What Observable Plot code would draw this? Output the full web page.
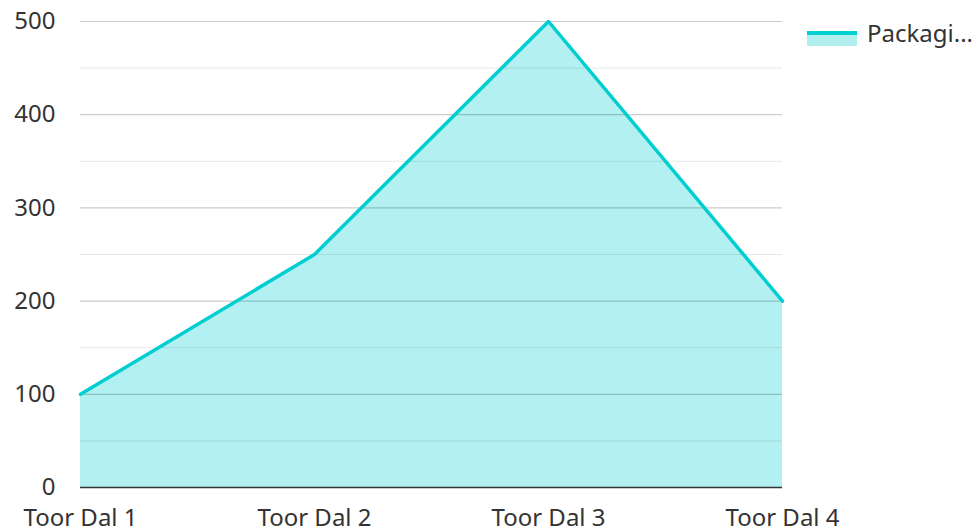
<!DOCTYPE html>
<html>
<head>
<meta charset="utf-8">
<script src="https://cdn.jsdelivr.net/npm/d3@7"></script>
<script src="https://cdn.jsdelivr.net/npm/@observablehq/plot@0.6"></script>
<style>
  html, body { margin: 0; padding: 0; background: #fff; }
  #wrap { position: relative; width: 979px; height: 529px; font-family: "Noto Sans", "Open Sans", sans-serif; }
  #legend { position: absolute; left: 807px; top: 16px; display: flex; align-items: flex-start; font-size: 24px; line-height: 34px; color: #333; white-space: nowrap; }
  #legend .sw { width: 50px; height: 15px; margin-right: 10px; position: relative; margin-top: 15px; }
  #legend .sw .ln { position: absolute; left: 0; top: 0; width: 100%; height: 4px; background: #00CED1; }
  #legend .sw .fl { position: absolute; left: 0; top: 4px; width: 100%; height: 11px; background: #b2efef; }
</style>
</head>
<body>
<div id="wrap"></div>
<script>
const categories = ["Toor Dal 1", "Toor Dal 2", "Toor Dal 3", "Toor Dal 4"];
const values = [100, 250, 500, 200];
const seriesName = "Packaging";
const majorTicks = [0, 100, 200, 300, 400, 500];
const minorTicks = [50, 150, 250, 350, 450];

const data = categories.map((c, i) => ({ cat: c, value: values[i] }));

const chart = Plot.plot({
  width: 979,
  height: 529,
  marginLeft: 80,
  marginRight: 197,
  marginTop: 21,
  marginBottom: 42,
  style: { fontFamily: "Noto Sans, Open Sans, sans-serif", background: "#fff", overflow: "visible" },
  x: { type: "point", domain: categories, padding: 0, label: null },
  y: { domain: [0, 500], label: null },
  marks: [
    Plot.areaY(data, { x: "cat", y: "value", fill: "#00CED1", fillOpacity: 0.3, curve: "linear" }),
    Plot.ruleY(minorTicks, { stroke: "#000", strokeOpacity: 0.09, strokeWidth: 1 }),
    Plot.ruleY(majorTicks.filter(d => d > 0), { stroke: "#000", strokeOpacity: 0.2, strokeWidth: 1.2 }),
    Plot.lineY(data, { x: "cat", y: "value", stroke: "#00CED1", strokeWidth: 3.5, curve: "linear" }),
    Plot.ruleY([0], { stroke: "#333", strokeWidth: 1.5 }),
    Plot.axisX({ tickSize: 0, tickPadding: 21, fontSize: 24, color: "#333", label: null }),
    Plot.axisY({ ticks: majorTicks, tickSize: 0, tickPadding: 25, fontSize: 24, color: "#333", label: null })
  ]
});

const wrap = document.getElementById("wrap");
wrap.appendChild(chart);

const legend = document.createElement("div");
legend.id = "legend";
const shortName = seriesName.length > 7 ? seriesName.slice(0, 7) + "..." : seriesName;
legend.innerHTML = '<div class="sw"><div class="ln"></div><div class="fl"></div></div><span>' + shortName + '</span>';
wrap.appendChild(legend);
</script>
</body>
</html>
